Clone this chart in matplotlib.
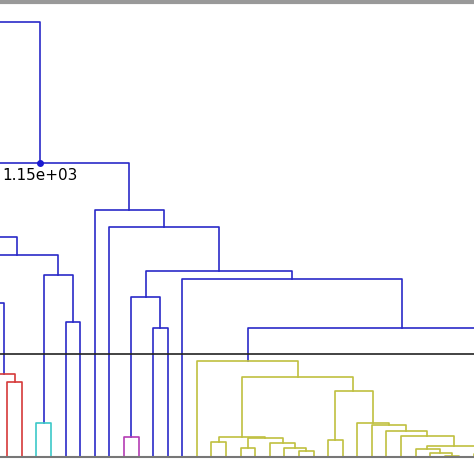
"""
Cropped dendrogram with a cut-off line and a merge-height annotation.
"""
import matplotlib
matplotlib.use("Agg")
import matplotlib.pyplot as plt

# One entry per link (scipy-style: leaf i sits at x = 10*i + 5).
# left x, right x, left child height, link height, right child height, colour
link_left = [-30, -34, 65, 75, 100, 125, 169.9, 90, 85, 105,
             -40, -17.2, 30, 25, 45, -37, -5, 5,
             135, 166.2, 150, 145, 170, 165, 185, 195, 205,
             230, 225, 245, 255, 265, 275, 293, 285, 295, 305, 325]
link_right = [27.4, 88.75, 112.5, 150, 200, 275.3, 380.7, 110, 95, 115,
              11.4, 40, 50, 35, 55, 2.5, 10, 15,
              204, 241.7, 181.9, 155, 193.75, 175, 202.5, 210, 215,
              255.9, 235, 266.8, 278.6, 292.5, 311, 329, 301.4, 310, 315, 335]
h_left = [1300, 1200, 0, 0, 626, 0, 375, 78, 0, 0,
          700, 602, 132, 0, 0, 700, 0, 0,
          0, 78, 60, 0, 35, 0, 0, 0, 0,
          66, 0, 0, 0, 0, 0, 30, 0, 0, 0, 0]
h_top = [1701, 1150, 966, 899, 727, 696, 504, 626, 78, 504,
         861, 790, 713, 132, 527, 602, 325, 293,
         375, 313, 78, 60, 74, 35, 56, 34, 23,
         258, 66, 133, 125, 103, 81, 44, 30, 17, 4, 10]
h_right = [1150, 966, 899, 727, 696, 504, 500, 504, 0, 0,
           790, 713, 527, 0, 0, 325, 293, 0,
           313, 258, 74, 0, 56, 0, 34, 23, 0,
           133, 0, 125, 103, 81, 44, 10, 17, 4, 0, 0]
link_colors = (["b"] * 8 + ["m", "b"] + ["b"] * 3 + ["c", "b", "b", "r", "r"]
               + ["y"] * 20)

cut_height = 403
annot_x, annot_h = 27.4, 1150

fig = plt.figure(figsize=(4.74, 4.74), dpi=100)
ax = fig.add_axes([0, 17 / 474, 1, 455 / 474])
color_map = {"b": "#2a2ac8", "r": "#d63a3a", "c": "#3cc8c8", "m": "#b43cb4", "y": "#c0c040"}
for xl, xr, hl, ht, hr, c in zip(link_left, link_right, h_left, h_top, h_right, link_colors):
    ax.plot([xl, xl, xr, xr], [hl, ht, ht, hr], color=color_map[c], lw=1.2)

ax.axhline(cut_height, color="#222222", lw=1.2)
ax.plot(annot_x, annot_h, "o", color="#1a1ad0", ms=4)
ax.annotate("%.3g" % annot_h, (annot_x, annot_h), xytext=(0, -4),
            textcoords="offset points", ha="center", va="top", fontsize=11)

ax.set_xlim(0, 325)
ax.set_ylim(0, 1779)
ax.set_xticks([])
ax.set_yticks([])
ax.spines["left"].set_visible(False)
ax.spines["right"].set_visible(False)
ax.spines["top"].set_color("#999999")
ax.spines["top"].set_linewidth(3)
ax.spines["bottom"].set_color("#777777")
ax.spines["bottom"].set_linewidth(1.5)

fig.savefig("out.png", dpi=100, facecolor="white")
